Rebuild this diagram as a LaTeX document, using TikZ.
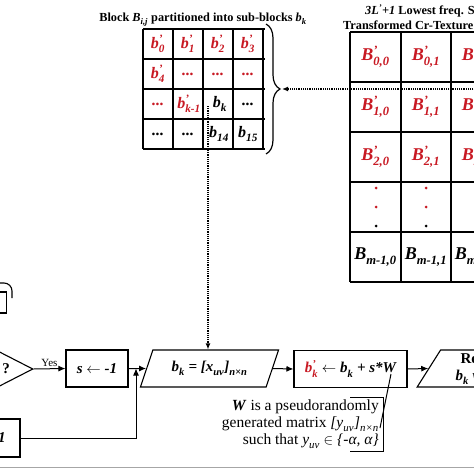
\documentclass[tikz,border=0pt]{standalone}
\usepackage{amsmath}
\usepackage{fontspec}
\setmainfont{Liberation Serif}
\usetikzlibrary{arrows.meta, shapes.geometric, decorations.pathreplacing}
\definecolor{bitred}{RGB}{200,25,35}
\newcommand{\pss}[2]{\ensuremath{^{\text{#1}}_{\text{#2}}}}
\tikzset{
  grid line/.style={line width=1.3pt, black},
  sub cell/.style={font=\fontsize{16}{18}\selectfont\bfseries\itshape, inner sep=0pt},
  band cell/.style={font=\fontsize{18}{20}\selectfont\bfseries\itshape, inner sep=0pt},
  title text/.style={font=\fontsize{12.3}{14}\selectfont\bfseries, inner sep=0pt},
  box line/.style={line width=1.1pt},
  process box/.style={draw, box line, minimum width=62pt, minimum height=37pt, inner sep=2pt, font=\fontsize{15}{17}\selectfont\bfseries\itshape},
  io box/.style={trapezium, trapezium left angle=65, trapezium right angle=115, trapezium stretches=true, draw, box line, minimum width=139pt, minimum height=37pt, inner sep=2pt, font=\fontsize{15}{17}\selectfont\bfseries\itshape},
  decision/.style={diamond, draw, box line, minimum width=146pt, minimum height=75pt, inner sep=0pt},
  flow arrow/.style={line width=1pt, -{Latex[length=7pt, width=6pt]}},
  dotted arrow/.style={line width=1.2pt, densely dotted, -{Latex[length=6pt, width=5pt]}},
  brace line/.style={line width=1.2pt},
  yes label/.style={above, inner sep=1.5pt, font=\fontsize{11}{13}\selectfont},
  note text/.style={align=right, inner sep=0pt, font=\fontsize{15.5}{17}\selectfont},
  note line/.style={line width=1pt},
  rule line/.style={gray!70, line width=0.8pt},
}

\begin{document}
\begin{tikzpicture}[x=1pt, y=-1pt]
  \useasboundingbox (0,0) rectangle (474,474);
  \clip (0,0) rectangle (474,474);

  % sub-block grid of B_{i,j}
  \foreach \i in {0,...,4} {
    \draw[grid line] (143,{29+30*\i}) -- (265,{29+30*\i});
    \draw[grid line] ({143+30*\i},29) -- ({143+30*\i},149);
  }
  \node[title text, anchor=base] (blocktitle) at (203,21) {Block \textit{B\pss{}{i,j}} partitioned into sub-blocks \textit{b\pss{}{k}}};
  \foreach \c in {0,...,3}
    \node[sub cell, text=bitred] (sb-0-\c) at ({158+30*\c},44) {b\pss{'}{\c}};
  \node[sub cell, text=bitred] (sb-1-0) at (158,74) {b\pss{'}{4}};
  \foreach \c in {1,2,3}
    \node[sub cell, text=bitred] (sb-1-\c) at ({158+30*\c},74) {...};
  \node[sub cell, text=bitred] (sb-2-0) at (158,104) {...};
  \node[sub cell, text=bitred] (sb-2-1) at (189,104) {b\pss{'}{k-1}};
  \node[sub cell] (sb-2-2) at (220,104) {b\pss{}{k}};
  \node[sub cell] (sb-2-3) at (248,104) {...};
  \node[sub cell] (sb-3-0) at (158,134) {...};
  \node[sub cell] (sb-3-1) at (188,134) {...};
  \node[sub cell] (sb-3-2) at (219,134) {b\pss{}{14}};
  \node[sub cell] (sb-3-3) at (248,134) {b\pss{}{15}};
  \draw[brace line, decorate, decoration={brace, amplitude=14pt}] (266,24) -- (266,154);
  \coordinate (bracetip) at (282,89);

  % sub-band grid
  \foreach \i in {0,...,5}
    \draw[grid line] (350,{32+50*\i}) -- (480,{32+50*\i});
  \foreach \x in {350,401,451}
    \draw[grid line] (\x,32) -- (\x,282);
  \node[title text, anchor=base west] (bandtitle1) at (365,14.5) {\textit{3L\pss{'}{}+1} Lowest freq. Sub-bands of};
  \node[title text, anchor=base west] (bandtitle2) at (343,29.5) {Transformed Cr-Texture};
  \foreach \r in {0,1,2}
    \foreach \c/\cx in {0/375.5,1/426,2/476}
      \node[band cell, text=bitred] (bb-\r-\c) at (\cx,{57+50*\r}) {B\pss{'}{\r,\c}};
  \foreach \cx in {376,426} {
    \fill[bitred] (\cx,188) circle[radius=1.5pt];
    \fill[bitred] (\cx,207) circle[radius=1.5pt];
    \fill[black] (\cx,226) circle[radius=1.5pt];
  }
  \foreach \c/\cx in {0/375.5,1/426,2/476}
    \node[band cell] (bb-4-\c) at (\cx,257) {B\pss{}{m-1,\c}};
  \coordinate (bandrow) at (480,89);
  \draw[dotted arrow] (bandrow) -- (bracetip);

  % embedding flow
  \node[process box, anchor=east, minimum width=60pt, minimum height=21pt] (prev) at (7,302.5) {};
  \draw[box line, rounded corners=8pt] (-20,283) -- (12,283) -- (12,298);
  \node[decision] (bitq) at (-40,369) {};
  \node[font=\fontsize{15}{17}\selectfont\bfseries] (bitqmark) at (6,369) {?};
  \node[process box] (neg) at (97,368.5) {s $\leftarrow$ -1};
  \node[process box, minimum width=64pt, minimum height=38pt] (pos) at (-12,438) {s $\leftarrow$ 1};
  \node[io box] (blk) at (209.5,368.5) {b\pss{}{k} = [x\pss{}{uv}]\pss{}{n×n}};
  \node[process box, minimum width=113pt] (emb) at (350.5,369) {\textcolor{bitred}{b\pss{'}{k}} $\leftarrow$ b\pss{}{k} + s*W};
  \node[io box, align=center] (repl) at (486,368.5) {{\upshape Replace}\\ b\pss{}{k} with b\pss{'}{k}};

  \draw[flow arrow] (bitq.east) -- node[yes label] {Yes} (neg.west);
  \draw[flow arrow] (neg.east) -- (blk.west);
  \coordinate (merge) at (136,368.5);
  \draw[flow arrow] (pos.east) -| (merge);
  \draw[flow arrow] (blk.east) -- (emb.west);
  \draw[flow arrow] (emb.east) -- (repl.west);
  \coordinate (bkpick) at (208,106);
  \draw[dotted arrow] (bkpick) -- (bkpick |- blk.north);

  % note on W
  \node[note text, anchor=east] (wnote) at (379,424) {\textbf{\textit{W}} is a pseudorandomly\\ generated matrix \textit{[y\pss{}{uv}]\pss{}{n×n}}\\ such that \textit{y\pss{}{uv}} $\in$ \textit{\{-α, α\}}};
  \coordinate (wbend) at (380,428);
  \coordinate (wmark) at (391,374);
  \draw[note line] (350,397) -- (383,397) -- (383,451) -- (350,451);
  \draw[note line] (wbend) -- (wmark);

  \draw[rule line] (0,467.5) -- (474,467.5);
\end{tikzpicture}
\end{document}
